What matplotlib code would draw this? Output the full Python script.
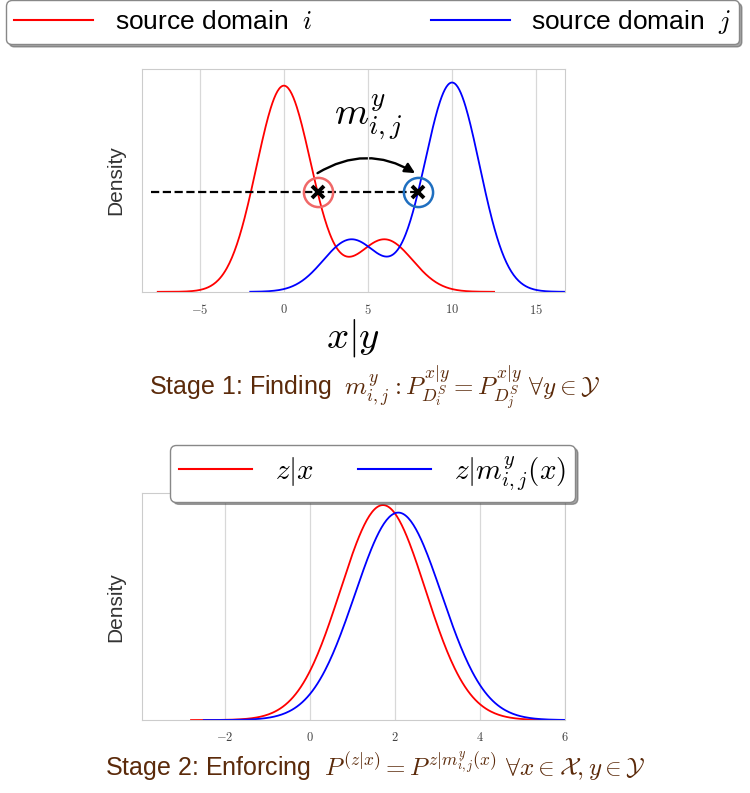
import numpy as np
import matplotlib.pyplot as plt
from matplotlib.patches import FancyArrowPatch
from matplotlib.lines import Line2D

plt.rcParams['mathtext.fontset'] = 'cm'
plt.rcParams['font.family'] = ['Liberation Sans', 'DejaVu Sans']

# top panel: mixture components (mean, sd, weight)
red_means, red_sds, red_w = [0.0, 6.0], [1.63, 1.65], [0.985, 0.25]
blue_means, blue_sds, blue_w = [10.0, 4.0], [1.63, 1.65], [1.0, 0.25]
red_range = (-7.5, 12.5)
blue_range = (-2.0, 17.0)
cross_x = [2.0, 8.0]
top_ticks = [-5, 0, 5, 10, 15]

# bottom panel: z|x vs z|m(x)
zx_mean, zx_sd, zx_peak, zx_range = 1.72, 1.0, 1.0, (-2.8, 6.3)
zm_mean, zm_sd, zm_peak, zm_range = 2.08, 1.02, 0.965, (-2.5, 6.5)
bot_ticks = [-2, 0, 2, 4, 6]

brown = '#5b2a0a'


def mix(x, means, sds, ws):
    return sum(w * np.exp(-0.5 * ((x - m) / s) ** 2) for m, s, w in zip(means, sds, ws))


def style(ax, ticks):
    ax.set_xticks(ticks)
    ax.set_xticklabels(['$%d$' % t for t in ticks])
    ax.grid(axis='x', color='#d8d8d8', lw=0.9)
    ax.tick_params(axis='x', labelsize=9, length=0, colors='#444444', pad=8)
    ax.set_yticks([])
    ax.set_ylabel('Density', fontsize=15, color='#333333', labelpad=12)
    for s in ax.spines.values():
        s.set_color('#cccccc')


fig = plt.figure(figsize=(7.5, 7.93), dpi=100)

# ---- top legend
fig.legend(handles=[Line2D([], [], color='red', lw=1.5), Line2D([], [], color='blue', lw=1.5)],
           labels=['source domain  $i$', 'source domain  $j$'], ncol=2, loc='center',
           bbox_to_anchor=(0.497, 0.972), fontsize=19, frameon=True, shadow=True, fancybox=True,
           columnspacing=4.5, handlelength=3, edgecolor='#888888', borderpad=0.3)

# ---- top axes
ax1 = fig.add_axes([0.189, 0.632, 0.564, 0.281])
xr = np.linspace(*red_range, 400)
xb = np.linspace(*blue_range, 400)
ax1.plot(xr, mix(xr, red_means, red_sds, red_w), color='red', lw=1.3)
ax1.plot(xb, mix(xb, blue_means, blue_sds, blue_w), color='blue', lw=1.3)
ax1.set_xlim(-8.45, 16.7)
ax1.set_ylim(0, 1.065)
style(ax1, top_ticks)
ax1.set_xlabel('$x|y$', fontsize=28, labelpad=0)
yd = mix(cross_x[0], red_means, red_sds, red_w)
ax1.plot([-7.9, cross_x[1]], [yd, yd], 'k--', lw=1.6)
for cx, col in zip(cross_x, ['#f06868', '#1f6fc0']):
    ax1.plot(cx, yd, 'o', ms=21, mfc='none', mec=col, mew=1.8)
ax1.plot(cross_x, [yd, yd], 'kx', ms=8, mew=2.8)
ax1.add_patch(FancyArrowPatch((2.0, yd + 0.09), (7.8, yd + 0.09),
                              connectionstyle='arc3,rad=-0.3', arrowstyle='-|>',
                              mutation_scale=15, color='black', lw=1.7, shrinkA=0, shrinkB=0))
ax1.text(5, 0.8, '$m^y_{i,j}$', fontsize=28, ha='center')

fig.text(0.5, 0.5, 'Stage 1: Finding  $m^y_{i,j}: P^{x|y}_{D^S_i} = P^{x|y}_{D^S_j}\\ \\forall y \\in \\mathcal{Y}$',
         fontsize=18, color=brown, ha='center')

# ---- bottom legend
fig.legend(handles=[Line2D([], [], color='red', lw=1.5), Line2D([], [], color='blue', lw=1.5)],
           labels=['$z|x$', '$z|m^y_{i,j}(x)$'], ncol=2, loc='center',
           bbox_to_anchor=(0.497, 0.403), fontsize=21, frameon=True, shadow=True, fancybox=True,
           columnspacing=1.5, handlelength=2.5, edgecolor='#888888', borderpad=0.3)

# ---- bottom axes
ax2 = fig.add_axes([0.189, 0.092, 0.564, 0.286])
z1 = np.linspace(*zx_range, 300)
z2 = np.linspace(*zm_range, 300)
ax2.plot(z1, zx_peak * np.exp(-0.5 * ((z1 - zx_mean) / zx_sd) ** 2), color='red', lw=1.3)
ax2.plot(z2, zm_peak * np.exp(-0.5 * ((z2 - zm_mean) / zm_sd) ** 2), color='blue', lw=1.3)
ax2.set_xlim(-3.96, 5.85)
ax2.set_ylim(0, 1.055)
style(ax2, bot_ticks)
ax2.set_zorder(-1)

fig.text(0.5, 0.022, 'Stage 2: Enforcing  $P^{(z|x)} = P^{z|m^y_{i,j}(x)}\\ \\forall x \\in \\mathcal{X}, y \\in \\mathcal{Y}$',
         fontsize=18, color=brown, ha='center')

fig.savefig('out.png')
